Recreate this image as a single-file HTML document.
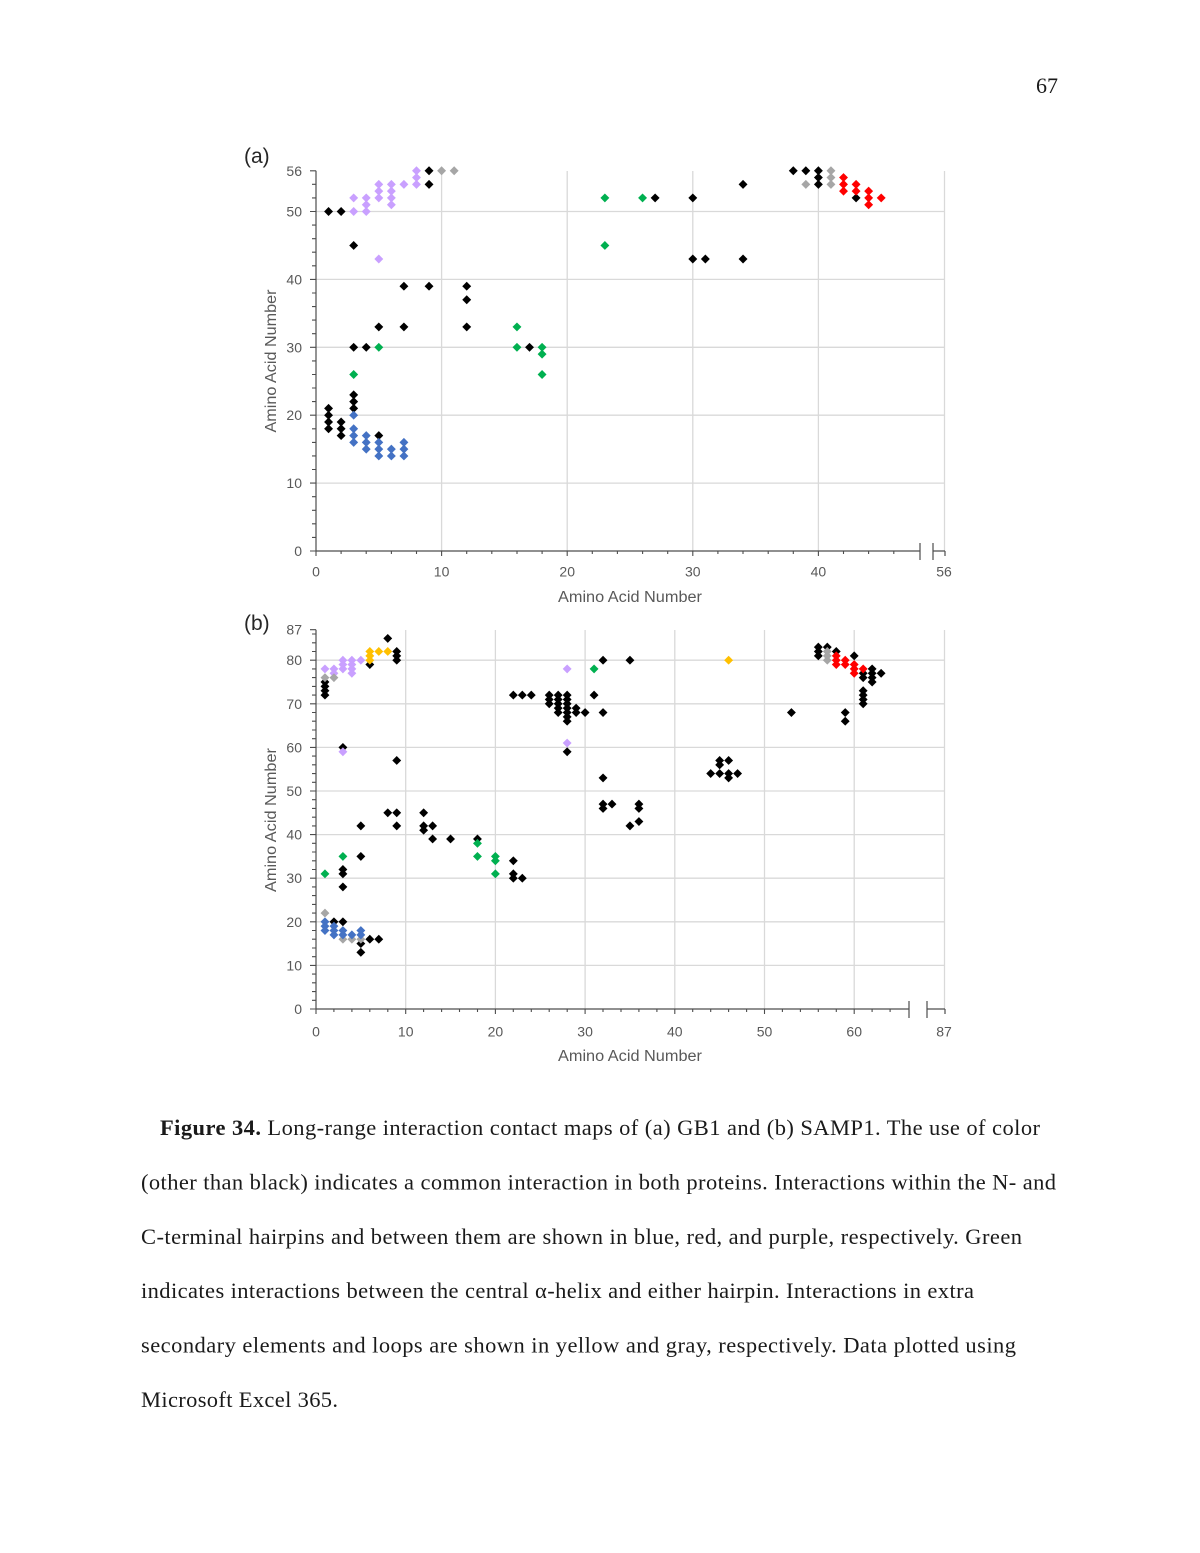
<!DOCTYPE html>
<html><head><meta charset="utf-8"><style>html,body{margin:0;padding:0;background:#fff}svg{display:block}</style></head>
<body>
<svg width="1200" height="1553" viewBox="0 0 1200 1553" xmlns="http://www.w3.org/2000/svg">
<defs>
<path id="a" d="M0-0.66L0.355 0L0 0.66L-0.355 0Z"/>
<path id="b" d="M0-1.02L0.495 0L0 1.02L-0.495 0Z"/>
</defs>
<rect width="1200" height="1553" fill="#fff"/>
<text x="1058" y="93" font-family="Liberation Serif, serif" font-size="22" text-anchor="end" fill="#1a1a1a">67</text>

<!-- ========== Chart (a) ========== -->
<text x="244" y="163" font-family="Liberation Sans, sans-serif" font-size="21" fill="#262626">(a)</text>
<path d="M316 483.1H945M316 415.2H945M316 347.3H945M316 279.4H945M316 211.5H945M441.6 171V551M567.2 171V551M692.8 171V551M818.4 171V551M944.5 171V551" stroke="#d9d9d9" stroke-width="1.3" fill="none"/>
<path d="M316 170.8V551H920M920 543V560M933 543V560M933 551H945M945 551v5" stroke="#4d4d4d" stroke-width="1.2" fill="none"/>
<path d="M310 551h6M310 483.1h6M310 415.2h6M310 347.3h6M310 279.4h6M310 211.5h6M310 170.8h6M312 537.4h4M312 523.8h4M312 510.3h4M312 496.7h4M312 469.5h4M312 455.9h4M312 442.4h4M312 428.8h4M312 401.6h4M312 388h4M312 374.5h4M312 360.9h4M312 333.7h4M312 320.1h4M312 306.6h4M312 293h4M312 265.8h4M312 252.2h4M312 238.7h4M312 225.1h4M312 197.9h4M312 184.3h4M316 551v5M441.6 551v5M567.2 551v5M692.8 551v5M818.4 551v5M341.1 551v3M366.2 551v3M391.4 551v3M416.5 551v3M466.7 551v3M491.8 551v3M517 551v3M542.1 551v3M592.3 551v3M617.4 551v3M642.6 551v3M667.7 551v3M717.9 551v3M743 551v3M768.2 551v3M793.3 551v3M843.5 551v3M868.6 551v3M893.8 551v3" stroke="#4d4d4d" stroke-width="1.1" fill="none"/>
<g font-family="Liberation Sans, sans-serif" font-size="14" fill="#595959">
<g text-anchor="end">
<text x="302" y="556">0</text><text x="302" y="488.1">10</text><text x="302" y="420.2">20</text><text x="302" y="352.3">30</text><text x="302" y="284.4">40</text><text x="302" y="216.5">50</text><text x="302" y="175.8">56</text>
</g>
<g text-anchor="middle">
<text x="316" y="576.5">0</text><text x="441.6" y="576.5">10</text><text x="567.2" y="576.5">20</text><text x="692.8" y="576.5">30</text><text x="818.4" y="576.5">40</text><text x="944" y="576.5">56</text>
</g>
</g>
<text x="630" y="602" font-family="Liberation Sans, sans-serif" font-size="15.5" fill="#595959" text-anchor="middle" textLength="144" lengthAdjust="spacingAndGlyphs">Amino Acid Number</text>
<text transform="translate(276 361) rotate(-90)" font-family="Liberation Sans, sans-serif" font-size="15.5" fill="#595959" text-anchor="middle" textLength="143" lengthAdjust="spacingAndGlyphs">Amino Acid Number</text>

<g transform="translate(316 551) scale(12.56 -6.79)">
<g fill="#000">
<use href="#a" x="1" y="50"/><use href="#a" x="2" y="50"/><use href="#a" x="3" y="45"/><use href="#a" x="3" y="30"/><use href="#a" x="4" y="30"/><use href="#a" x="5" y="33"/><use href="#a" x="7" y="39"/><use href="#a" x="7" y="33"/><use href="#a" x="9" y="56"/><use href="#a" x="9" y="54"/><use href="#a" x="9" y="39"/><use href="#a" x="12" y="39"/><use href="#a" x="12" y="37"/><use href="#a" x="12" y="33"/><use href="#a" x="17" y="30"/>
<use href="#a" x="1" y="21"/><use href="#a" x="1" y="20"/><use href="#a" x="1" y="19"/><use href="#a" x="1" y="18"/><use href="#a" x="2" y="19"/><use href="#a" x="2" y="18"/><use href="#a" x="2" y="17"/><use href="#a" x="3" y="23"/><use href="#a" x="3" y="22"/><use href="#a" x="3" y="21"/><use href="#a" x="5" y="17"/>
<use href="#a" x="27" y="52"/><use href="#a" x="30" y="52"/><use href="#a" x="30" y="43"/><use href="#a" x="31" y="43"/><use href="#a" x="34" y="54"/><use href="#a" x="34" y="43"/><use href="#a" x="38" y="56"/><use href="#a" x="39" y="56"/><use href="#a" x="40" y="56"/><use href="#a" x="40" y="55"/><use href="#a" x="40" y="54"/><use href="#a" x="43" y="52"/>
</g>
<g fill="#c9a0ff">
<use href="#a" x="3" y="52"/><use href="#a" x="3" y="50"/><use href="#a" x="4" y="52"/><use href="#a" x="4" y="51"/><use href="#a" x="4" y="50"/><use href="#a" x="5" y="54"/><use href="#a" x="5" y="53"/><use href="#a" x="5" y="52"/><use href="#a" x="5" y="43"/><use href="#a" x="6" y="54"/><use href="#a" x="6" y="53"/><use href="#a" x="6" y="52"/><use href="#a" x="6" y="51"/><use href="#a" x="7" y="54"/><use href="#a" x="8" y="56"/><use href="#a" x="8" y="55"/><use href="#a" x="8" y="54"/>
</g>
<g fill="#a6a6a6">
<use href="#a" x="10" y="56"/><use href="#a" x="11" y="56"/><use href="#a" x="39" y="54"/><use href="#a" x="41" y="56"/><use href="#a" x="41" y="55"/><use href="#a" x="41" y="54"/>
</g>
<g fill="#00b050">
<use href="#a" x="3" y="26"/><use href="#a" x="5" y="30"/><use href="#a" x="16" y="33"/><use href="#a" x="16" y="30"/><use href="#a" x="18" y="30"/><use href="#a" x="18" y="29"/><use href="#a" x="18" y="26"/><use href="#a" x="23" y="52"/><use href="#a" x="23" y="45"/><use href="#a" x="26" y="52"/>
</g>
<g fill="#4472c4">
<use href="#a" x="3" y="20"/><use href="#a" x="3" y="18"/><use href="#a" x="3" y="17"/><use href="#a" x="3" y="16"/><use href="#a" x="4" y="17"/><use href="#a" x="4" y="16"/><use href="#a" x="4" y="15"/><use href="#a" x="5" y="16"/><use href="#a" x="5" y="15"/><use href="#a" x="5" y="14"/><use href="#a" x="6" y="15"/><use href="#a" x="6" y="14"/><use href="#a" x="7" y="16"/><use href="#a" x="7" y="15"/><use href="#a" x="7" y="14"/>
</g>
<g fill="#ff0000">
<use href="#a" x="42" y="55"/><use href="#a" x="42" y="54"/><use href="#a" x="42" y="53"/><use href="#a" x="43" y="54"/><use href="#a" x="43" y="53"/><use href="#a" x="44" y="53"/><use href="#a" x="44" y="52"/><use href="#a" x="44" y="51"/><use href="#a" x="45" y="52"/>
</g>
</g>

<!-- ========== Chart (b) ========== -->
<text x="244" y="630" font-family="Liberation Sans, sans-serif" font-size="21" fill="#262626">(b)</text>
<path d="M316 965.4H945M316 921.8H945M316 878.2H945M316 834.6H945M316 791H945M316 747.4H945M316 703.8H945M316 660.2H945M405.7 630V1009M495.4 630V1009M585.1 630V1009M674.8 630V1009M764.5 630V1009M854.2 630V1009M944.5 630V1009" stroke="#d9d9d9" stroke-width="1.3" fill="none"/>
<path d="M316 629.7V1009H909M909 1001V1018M927 1001V1018M927 1009H945M945 1009v5" stroke="#4d4d4d" stroke-width="1.2" fill="none"/>
<path d="M310 1009h6M310 965.4h6M310 921.8h6M310 878.2h6M310 834.6h6M310 791h6M310 747.4h6M310 703.8h6M310 660.2h6M310 629.7h6M312 1000.3h4M312 991.6h4M312 982.8h4M312 974.1h4M312 956.7h4M312 948h4M312 939.2h4M312 930.5h4M312 913.1h4M312 904.4h4M312 895.6h4M312 886.9h4M312 869.5h4M312 860.8h4M312 852h4M312 843.3h4M312 825.9h4M312 817.2h4M312 808.4h4M312 799.7h4M312 782.3h4M312 773.6h4M312 764.8h4M312 756.1h4M312 738.7h4M312 730h4M312 721.2h4M312 712.5h4M312 695.1h4M312 686.4h4M312 677.6h4M312 668.9h4M312 651.5h4M312 642.8h4M312 634h4M316 1009v5M405.7 1009v5M495.4 1009v5M585.1 1009v5M674.8 1009v5M764.5 1009v5M854.2 1009v5M333.9 1009v3M351.9 1009v3M369.8 1009v3M387.8 1009v3M423.6 1009v3M441.6 1009v3M459.5 1009v3M477.5 1009v3M513.3 1009v3M531.3 1009v3M549.2 1009v3M567.2 1009v3M603 1009v3M621 1009v3M638.9 1009v3M656.9 1009v3M692.7 1009v3M710.7 1009v3M728.6 1009v3M746.6 1009v3M782.4 1009v3M800.4 1009v3M818.3 1009v3M836.3 1009v3M872.1 1009v3M890.1 1009v3" stroke="#4d4d4d" stroke-width="1.1" fill="none"/>
<g font-family="Liberation Sans, sans-serif" font-size="14" fill="#595959">
<g text-anchor="end">
<text x="302" y="1014">0</text><text x="302" y="970.4">10</text><text x="302" y="926.8">20</text><text x="302" y="883.2">30</text><text x="302" y="839.6">40</text><text x="302" y="796">50</text><text x="302" y="752.4">60</text><text x="302" y="708.8">70</text><text x="302" y="665.2">80</text><text x="302" y="634.7">87</text>
</g>
<g text-anchor="middle">
<text x="316" y="1036.5">0</text><text x="405.7" y="1036.5">10</text><text x="495.4" y="1036.5">20</text><text x="585.1" y="1036.5">30</text><text x="674.8" y="1036.5">40</text><text x="764.5" y="1036.5">50</text><text x="854.2" y="1036.5">60</text><text x="944" y="1036.5">87</text>
</g>
</g>
<text x="630" y="1061" font-family="Liberation Sans, sans-serif" font-size="15.5" fill="#595959" text-anchor="middle" textLength="144" lengthAdjust="spacingAndGlyphs">Amino Acid Number</text>
<text transform="translate(276 820) rotate(-90)" font-family="Liberation Sans, sans-serif" font-size="15.5" fill="#595959" text-anchor="middle" textLength="144" lengthAdjust="spacingAndGlyphs">Amino Acid Number</text>

<g transform="translate(316 1009) scale(8.97 -4.36)">
<g fill="#000">
<use href="#b" x="1" y="75"/><use href="#b" x="1" y="74"/><use href="#b" x="1" y="73"/><use href="#b" x="1" y="72"/>
<use href="#b" x="3" y="60"/><use href="#b" x="6" y="79"/><use href="#b" x="8" y="85"/><use href="#b" x="9" y="82"/><use href="#b" x="9" y="81"/><use href="#b" x="9" y="80"/><use href="#b" x="9" y="57"/>
<use href="#b" x="2" y="20"/><use href="#b" x="3" y="32"/><use href="#b" x="3" y="31"/><use href="#b" x="3" y="28"/><use href="#b" x="3" y="20"/><use href="#b" x="5" y="42"/><use href="#b" x="5" y="35"/><use href="#b" x="5" y="15"/><use href="#b" x="5" y="13"/><use href="#b" x="6" y="16"/><use href="#b" x="7" y="16"/><use href="#b" x="8" y="45"/><use href="#b" x="9" y="45"/><use href="#b" x="9" y="42"/>
<use href="#b" x="12" y="45"/><use href="#b" x="12" y="42"/><use href="#b" x="12" y="41"/><use href="#b" x="13" y="42"/><use href="#b" x="13" y="39"/><use href="#b" x="15" y="39"/><use href="#b" x="18" y="39"/><use href="#b" x="22" y="34"/><use href="#b" x="22" y="31"/><use href="#b" x="22" y="30"/><use href="#b" x="23" y="30"/>
<use href="#b" x="22" y="72"/><use href="#b" x="23" y="72"/><use href="#b" x="24" y="72"/><use href="#b" x="26" y="72"/><use href="#b" x="26" y="71"/><use href="#b" x="26" y="70"/><use href="#b" x="27" y="72"/><use href="#b" x="27" y="71"/><use href="#b" x="27" y="70"/><use href="#b" x="27" y="69"/><use href="#b" x="27" y="68"/><use href="#b" x="28" y="72"/><use href="#b" x="28" y="71"/><use href="#b" x="28" y="70"/><use href="#b" x="28" y="69"/><use href="#b" x="28" y="68"/><use href="#b" x="28" y="67"/><use href="#b" x="28" y="66"/><use href="#b" x="28" y="59"/><use href="#b" x="29" y="69"/><use href="#b" x="29" y="68"/><use href="#b" x="30" y="68"/><use href="#b" x="31" y="72"/><use href="#b" x="32" y="80"/><use href="#b" x="32" y="68"/><use href="#b" x="35" y="80"/>
<use href="#b" x="32" y="53"/><use href="#b" x="32" y="47"/><use href="#b" x="32" y="46"/><use href="#b" x="33" y="47"/><use href="#b" x="35" y="42"/><use href="#b" x="36" y="47"/><use href="#b" x="36" y="46"/><use href="#b" x="36" y="43"/>
<use href="#b" x="44" y="54"/><use href="#b" x="45" y="57"/><use href="#b" x="45" y="56"/><use href="#b" x="45" y="54"/><use href="#b" x="46" y="57"/><use href="#b" x="46" y="54"/><use href="#b" x="46" y="53"/><use href="#b" x="47" y="54"/>
<use href="#b" x="53" y="68"/><use href="#b" x="56" y="83"/><use href="#b" x="56" y="82"/><use href="#b" x="56" y="81"/><use href="#b" x="57" y="83"/><use href="#b" x="58" y="82"/><use href="#b" x="59" y="68"/><use href="#b" x="59" y="66"/><use href="#b" x="60" y="81"/><use href="#b" x="61" y="77"/><use href="#b" x="61" y="76"/><use href="#b" x="61" y="73"/><use href="#b" x="61" y="72"/><use href="#b" x="61" y="71"/><use href="#b" x="61" y="70"/><use href="#b" x="62" y="78"/><use href="#b" x="62" y="77"/><use href="#b" x="62" y="76"/><use href="#b" x="62" y="75"/><use href="#b" x="63" y="77"/>
</g>
<g fill="#c9a0ff">
<use href="#b" x="1" y="78"/><use href="#b" x="2" y="78"/><use href="#b" x="2" y="77"/><use href="#b" x="3" y="80"/><use href="#b" x="3" y="79"/><use href="#b" x="3" y="78"/><use href="#b" x="3" y="59"/><use href="#b" x="4" y="80"/><use href="#b" x="4" y="79"/><use href="#b" x="4" y="78"/><use href="#b" x="4" y="77"/><use href="#b" x="5" y="80"/><use href="#b" x="28" y="78"/><use href="#b" x="28" y="61"/>
</g>
<g fill="#a6a6a6">
<use href="#b" x="1" y="76"/><use href="#b" x="2" y="76"/><use href="#b" x="1" y="22"/><use href="#b" x="3" y="16"/><use href="#b" x="4" y="16"/><use href="#b" x="5" y="16"/><use href="#b" x="57" y="82"/><use href="#b" x="57" y="81"/><use href="#b" x="57" y="80"/>
</g>
<g fill="#ffc000">
<use href="#b" x="6" y="82"/><use href="#b" x="6" y="81"/><use href="#b" x="6" y="80"/><use href="#b" x="7" y="82"/><use href="#b" x="8" y="82"/><use href="#b" x="46" y="80"/>
</g>
<g fill="#00b050">
<use href="#b" x="1" y="31"/><use href="#b" x="3" y="35"/><use href="#b" x="18" y="38"/><use href="#b" x="18" y="35"/><use href="#b" x="20" y="35"/><use href="#b" x="20" y="34"/><use href="#b" x="20" y="31"/><use href="#b" x="31" y="78"/>
</g>
<g fill="#4472c4">
<use href="#b" x="1" y="20"/><use href="#b" x="1" y="19"/><use href="#b" x="1" y="18"/><use href="#b" x="2" y="19"/><use href="#b" x="2" y="18"/><use href="#b" x="2" y="17"/><use href="#b" x="3" y="18"/><use href="#b" x="3" y="17"/><use href="#b" x="4" y="17"/><use href="#b" x="5" y="18"/><use href="#b" x="5" y="17"/>
</g>
<g fill="#ff0000">
<use href="#b" x="58" y="81"/><use href="#b" x="58" y="80"/><use href="#b" x="58" y="79"/><use href="#b" x="59" y="80"/><use href="#b" x="59" y="79"/><use href="#b" x="60" y="79"/><use href="#b" x="60" y="78"/><use href="#b" x="60" y="77"/><use href="#b" x="61" y="78"/>
</g>
</g>

<!-- ========== Caption ========== -->
<g font-family="Liberation Serif, serif" font-size="22.5" fill="#1a1a1a">
<text x="160" y="1135" textLength="880" lengthAdjust="spacing"><tspan font-weight="bold">Figure 34.</tspan> Long-range interaction contact maps of (a) GB1 and (b) SAMP1. The use of color</text>
<text x="141" y="1189.5" textLength="915" lengthAdjust="spacing">(other than black) indicates a common interaction in both proteins. Interactions within the N- and</text>
<text x="141" y="1244" textLength="881" lengthAdjust="spacing">C-terminal hairpins and between them are shown in blue, red, and purple, respectively. Green</text>
<text x="141" y="1298" textLength="833" lengthAdjust="spacing">indicates interactions between the central α-helix and either hairpin. Interactions in extra</text>
<text x="141" y="1352.5" textLength="875" lengthAdjust="spacing">secondary elements and loops are shown in yellow and gray, respectively. Data plotted using</text>
<text x="141" y="1407" textLength="197" lengthAdjust="spacing">Microsoft Excel 365.</text>
</g>
</svg>
</body></html>
